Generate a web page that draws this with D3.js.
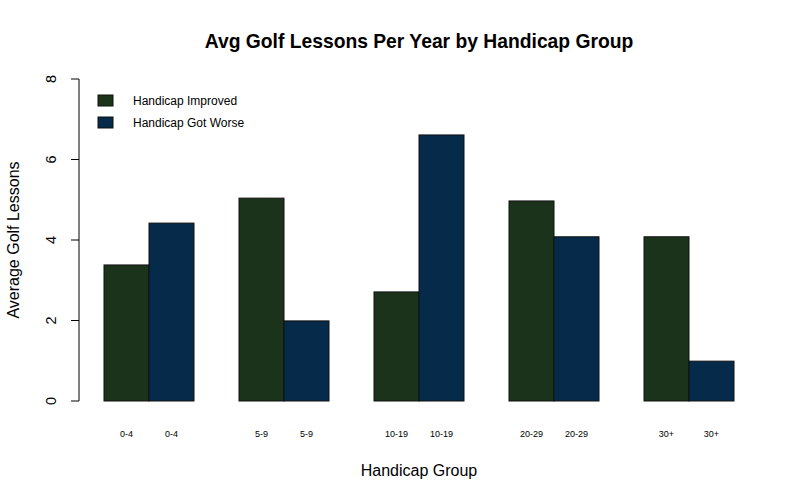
<!DOCTYPE html>
<html><head><meta charset="utf-8">
<script src="https://cdn.jsdelivr.net/npm/d3@7"></script>
<style>body{margin:0;background:#fff}svg{font-family:"Liberation Sans",Arial,sans-serif}</style>
</head><body>
<svg id="c" width="800" height="500"></svg>
<script>
const groups = ["0-4","5-9","10-19","20-29","30+"];
const seriesNames = ["Handicap Improved","Handicap Got Worse"];
const improved = [3.38,5.04,2.71,4.97,4.08];
const worse = [4.42,1.99,6.61,4.08,0.99];
const yTicks = [0,2,4,6,8];
const colors = ["#1a331a","#052a4a"];

const svg = d3.select("#c");
const x = d3.scaleLinear().domain([0,15]).range([59,734]);
const y = d3.scaleLinear().domain([0,8]).range([401,79]);
const series = [improved, worse];

const bars = [];
groups.forEach((g,gi)=>{
  series.forEach((s,si)=>{
    bars.push({g, si, v:s[gi], x0: gi*3+1+si});
  });
});

svg.selectAll("rect.bar").data(bars).join("rect")
  .attr("class","bar")
  .attr("x",d=>x(d.x0)).attr("width",d=>x(d.x0+1)-x(d.x0))
  .attr("y",d=>y(d.v)).attr("height",d=>y(0)-y(d.v))
  .attr("fill",d=>colors[d.si]).attr("stroke","#111").attr("stroke-width",1);

svg.selectAll("text.xl").data(bars).join("text")
  .attr("class","xl")
  .attr("x",d=>x(d.x0+0.5)).attr("y",437)
  .attr("text-anchor","middle").attr("font-size",9).text(d=>d.g);

// y axis
const ax = svg.append("g").attr("transform","translate(79,0)");
ax.append("line").attr("x1",0).attr("x2",0).attr("y1",y(0)).attr("y2",y(8)).attr("stroke","#000");
ax.selectAll("line.t").data(yTicks).join("line").attr("class","t")
  .attr("x1",0).attr("x2",-8).attr("y1",d=>y(d)).attr("y2",d=>y(d)).attr("stroke","#000");
ax.selectAll("text").data(yTicks).join("text")
  .attr("transform",d=>`translate(-23,${y(d)}) rotate(-90)`)
  .attr("text-anchor","middle").attr("font-size",14.5).text(d=>d);

svg.append("text").attr("x",419).attr("y",48).attr("text-anchor","middle")
  .attr("font-size",19.3).attr("font-weight","bold").text("Avg Golf Lessons Per Year by Handicap Group");
svg.append("text").attr("x",419).attr("y",476).attr("text-anchor","middle")
  .attr("font-size",16).text("Handicap Group");
svg.append("text").attr("transform","translate(19,240) rotate(-90)").attr("text-anchor","middle")
  .attr("font-size",16).text("Average Golf Lessons");

const lg = svg.append("g");
seriesNames.forEach((n,i)=>{
  lg.append("rect").attr("x",98).attr("y",95+i*22).attr("width",15).attr("height",11)
    .attr("fill",colors[i]).attr("stroke","#111");
  lg.append("text").attr("x",133).attr("y",105+i*22).attr("font-size",12).text(n);
});
</script>
</body></html>
